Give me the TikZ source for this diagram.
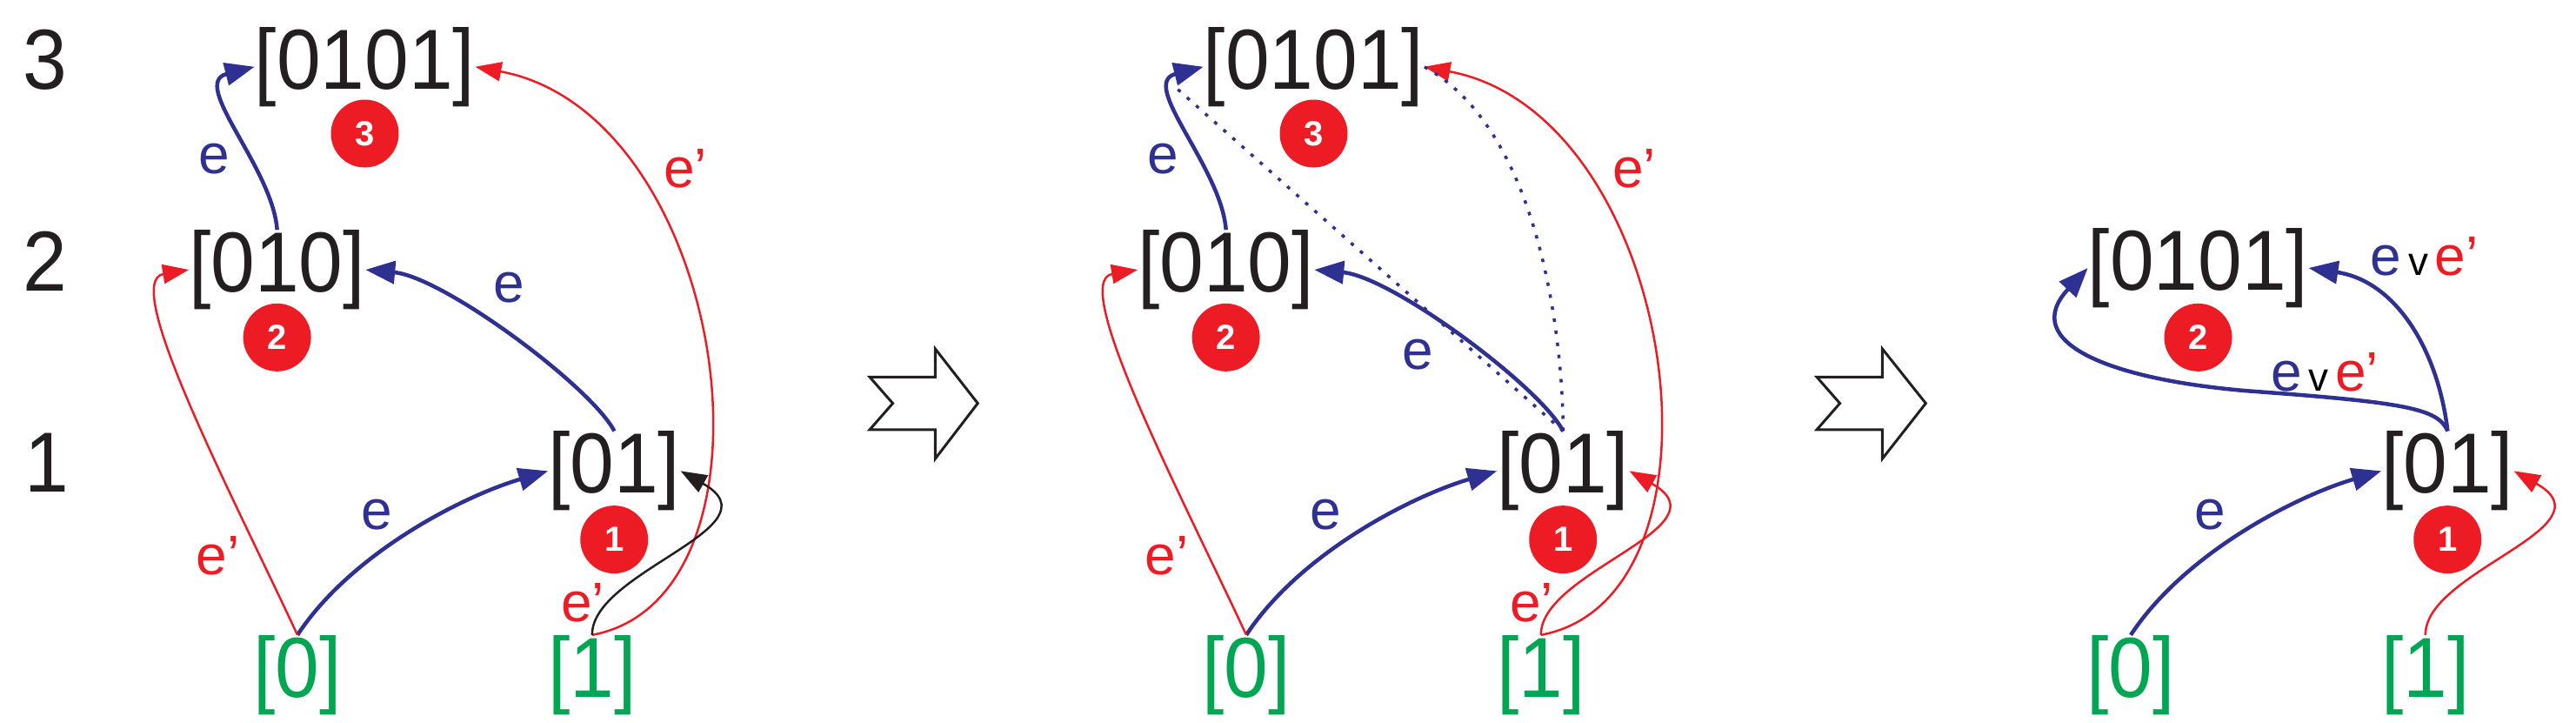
\documentclass[tikz,border=0pt]{standalone}
\usepackage{fontspec}
\setmainfont{Liberation Sans}
\newfontfamily\nar[FakeStretch=0.93]{Liberation Sans}
\usetikzlibrary{arrows.meta}
\definecolor{cblue}{HTML}{2E3192}
\definecolor{cred}{HTML}{ED1C24}
\definecolor{cgreen}{HTML}{00A651}
\definecolor{cblack}{HTML}{231F20}
\tikzset{
 st/.style={inner sep=0pt,text=cblack,font=\nar\fontsize{98}{98}\selectfont},
 gst/.style={st,text=cgreen},
 badge/.style={circle,fill=cred,minimum size=78pt,inner sep=0pt,text=white,font=\bfseries\fontsize{40}{40}\selectfont},
 lbl/.style={inner sep=0pt,font=\fontsize{64}{64}\selectfont},
 bl/.style={cblue,line width=4.5pt,-{Triangle[length=34pt,width=26pt]}},
 rl/.style={cred,line width=2.5pt,-{Triangle[length=30pt,width=22pt]}},
 kl/.style={cblack,line width=2.5pt,-{Triangle[length=30pt,width=22pt]}},
 dl/.style={cblue,line width=3.5pt,dash pattern=on 4pt off 10pt},
 chev/.style={draw=cblack,line width=3pt,fill=white},
}
\newcommand\evl{\textcolor{cblue}{e}{\fontsize{46}{46}\selectfont\,v\,}\textcolor{cred}{e’}}
\begin{document}
\begin{tikzpicture}[x=1pt,y=-1.01pt]
\useasboundingbox (0,0) rectangle (2962,821.8);
\begin{scope}[xscale=1.062]
\node[st] (n3) at (49,68) {3};
\node[st] (n2) at (49,297) {2};
\node[st] (n1) at (51,527) {1};
\end{scope}
\foreach \p/\dx/\c in {a/0/kl,b/1091/rl}{
 \begin{scope}[shift={(\dx,0)},xscale=1.062]
 \node[st] (\p4) at (395,76) {[0101]};
 \node[badge] (\p b3) at (395,152) {3};
 \node[st] (\p3) at (300,307) {[010]};
 \node[badge] (\p b2) at (300,384) {2};
 \node[st] (\p2) at (665,536) {[01]};
 \node[badge] (\p b1) at (665,614) {1};
 \node[gst] (\p0) at (322,768) {[0]};
 \node[gst] (\p1) at (641,768) {[1]};
 \draw[bl] (\p3.north) .. controls (295,190) and (205,95) .. (\p4.west);
 \draw[bl] (\p2.north) .. controls (640,440) and (480,315) .. (\p3.east);
 \draw[bl] (\p0.north) .. controls (380,630) and (500,565) .. (\p2.west);
 \draw[rl] (\p0.north) .. controls (250,560) and (130,320) .. (\p3.west);
 \draw[rl] (\p1.north) .. controls (860,680) and (790,130) .. (\p4.east);
 \draw[\c] (\p1.north) .. controls (640,650) and (845,600) .. (\p2.east);
 \node[lbl,text=cblue] (\p e1) at (232,181) {e};
 \node[lbl,text=cblue] (\p e3) at (408,586) {e};
 \node[lbl,text=cred] (\p f1) at (236,632) {e’};
 \node[lbl,text=cred] (\p f2) at (742,192) {e’};
 \node[lbl,text=cred] (\p f3) at (631,686) {e’};
 \end{scope}}
\begin{scope}[xscale=1.062]
\node[lbl,text=cblue] (ae2) at (551,327) {e};
\end{scope}
\begin{scope}[shift={(1091,0)},xscale=1.062]
\node[lbl,text=cblue] (be2) at (508,404) {e};
\coordinate (bd1) at (246,100);
\draw[dl] (b2.north) -- (bd1);
\draw[dl] (b2.north) .. controls (665,400) and (644,150) .. (b4.east);
\end{scope}
% chevrons
\begin{scope}[shift={(1000,0)},xscale=1.062]
\draw[chev] (0,429) -- (71,429) -- (71,397) -- (117,459) -- (71,522) -- (71,489) -- (0,489) -- (25,459) -- cycle;
\end{scope}
\begin{scope}[shift={(2089,0)},xscale=1.062]
\draw[chev] (0,429) -- (71,429) -- (71,397) -- (118,459) -- (71,522) -- (71,489) -- (0,489) -- (25,459) -- cycle;
\end{scope}
\begin{scope}[shift={(2108,0)},xscale=1.062]
 \node[st] (c4) at (395,305) {[0101]};
 \node[badge] (cb2) at (395,384) {2};
 \node[st] (c2) at (665,536) {[01]};
 \node[badge] (cb1) at (665,614) {1};
 \node[gst] (c0) at (322,768) {[0]};
 \node[gst] (c1) at (641,768) {[1]};
 \draw[bl] (c2.north) .. controls (655,400) and (610,320) .. (c4.east);
 \draw[bl] (c2.north) .. controls (655,465) and (620,458) .. (450,445) .. controls (300,432) and (200,390) .. (c4.west);
 \draw[bl] (c0.north) .. controls (380,630) and (500,565) .. (c2.west);
 \draw[rl] (c1.north) .. controls (640,650) and (845,600) .. (c2.east);
 \node[lbl] (ce1) at (640,292) {\evl};
 \node[lbl] (ce2) at (532,424) {\evl};
 \node[lbl,text=cblue] (ce3) at (408,586) {e};
\end{scope}
\end{tikzpicture}
\end{document}
